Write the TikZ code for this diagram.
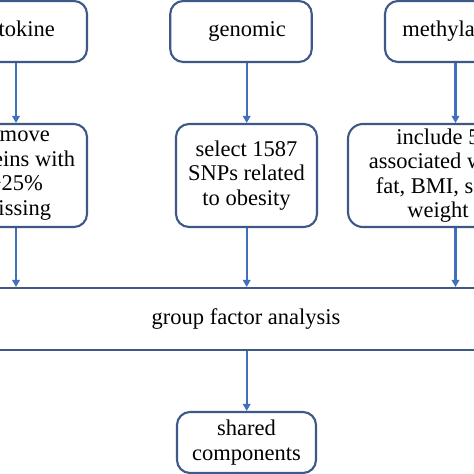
\documentclass[tikz,border=0pt]{standalone}
\usepackage{fontspec}
\setmainfont{Liberation Serif}
\usetikzlibrary{arrows.meta}
\definecolor{boxc}{RGB}{62,88,135}
\definecolor{arrc}{RGB}{66,110,190}
\begin{document}
\begin{tikzpicture}[x=1pt,y=-1pt,
  box/.style={draw=boxc, line width=2.1pt, rounded corners=13pt, fill=white, inner sep=0pt, align=center,
    font=\fontsize{22.5}{24.5}\selectfont},
  plain/.style={draw=boxc, line width=2.1pt, fill=white, inner sep=0pt, align=center,
    font=\fontsize{22.5}{24.5}\selectfont},
  txt/.style={inner sep=0pt, align=center, font=\fontsize{22.5}{24.5}\selectfont},
  arr/.style={draw=arrc, line width=2.4pt, -{Triangle[width=7.5pt,length=7pt]}}]
\useasboundingbox (0,0) rectangle (474,474);
\clip (0,0) rectangle (474,474);
\fill[white] (0,0) rectangle (474,474);
% arrow columns
\coordinate (cx1) at (16,0);
\coordinate (cx2) at (246.7,0);
\coordinate (cx3) at (455.5,0);
% top row
\node[box, minimum width=142pt, minimum height=61pt] (cyto) at (16,31.5) {cytokine};
\node[box, minimum width=141.5pt, minimum height=61pt] (genbox) at (241,31.5) {};
\node[txt] (gen) at (247,31.5) {genomic};
\node[box, minimum width=142pt, minimum height=61pt] (methyl) at (456,31.5) {methylation};
% second row
\node[box, minimum width=142pt, minimum height=103pt] (prot) at (16,175.5) {remove\\proteins with\\>25\%\\missing};
\node[box, minimum width=141pt, minimum height=103pt] (snp) at (246.5,175.5) {select 1587\\SNPs related\\to obesity};
\node[box, rounded corners=15pt, minimum width=180pt, minimum height=103pt] (cpg) at (438,175.5) {include 5\\associated with\\fat, BMI, sex,\\weight};
% band
\node[plain, minimum width=560pt, minimum height=62pt] (gfa) at (246,319) {group factor analysis};
% bottom
\node[box, minimum width=139pt, minimum height=61pt] (shared) at (246.5,442.5) {shared\\components};
% arrows
\draw[arr] (cyto.south -| cx1) -- (prot.north -| cx1);
\draw[arr] (genbox.south -| cx2) -- (snp.north -| cx2);
\draw[arr] (methyl.south -| cx3) -- (cpg.north -| cx3);
\draw[arr] (prot.south -| cx1) -- (gfa.north -| cx1);
\draw[arr] (snp.south -| cx2) -- (gfa.north -| cx2);
\draw[arr] (cpg.south -| cx3) -- (gfa.north -| cx3);
\draw[arr] (gfa.south -| cx2) -- (shared.north -| cx2);
\end{tikzpicture}
\end{document}
